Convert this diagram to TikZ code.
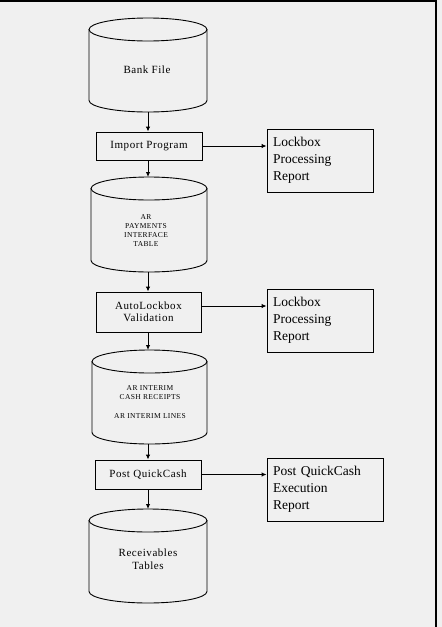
\documentclass[tikz,border=0pt]{standalone}
\usepackage{fontspec}
\setmainfont{Liberation Serif}
\newfontfamily\spacedfont[LetterSpace=5]{Liberation Serif}
\usetikzlibrary{arrows.meta,calc}
\definecolor{bg}{HTML}{F0F0F0}
\tikzset{
  x=1pt, y=1pt,
  cylline/.style={draw=black, line width=0.9pt},
  arr/.style={draw=black, line width=0.9pt, -{Latex[length=5pt,width=4.5pt]}},
  procbox/.style={draw=black, line width=0.9pt, inner sep=0pt, align=center,
    font=\spacedfont\fontsize{11}{12}\selectfont},
  reportbox/.style={draw=black, line width=0.9pt, inner sep=0pt, align=left,
    font=\fontsize{13.5}{17}\selectfont},
  cyltext/.style={inner sep=0pt, align=center, font=\spacedfont\fontsize{7.5}{9}\selectfont},
  cyltextbig/.style={inner sep=0pt, align=center, font=\spacedfont\fontsize{11}{13}\selectfont},
}
% name, cx, top, bottom, half width
\newcommand\mycyl[5]{%
  \draw[cylline] (#2,-#3-11.5) ellipse [x radius=#5, y radius=11.5];
  \draw[cylline] (#2-#5,-#3-11.5) -- (#2-#5,-#4+11.5)
     arc[start angle=180, end angle=360, x radius=#5, y radius=11.5]
     -- (#2+#5,-#3-11.5);
  \coordinate (#1-t) at (#2,-#3);
  \coordinate (#1-b) at (#2,-#4);
}
\begin{document}
\begin{tikzpicture}
\useasboundingbox (0,0) rectangle (442,-627);
\fill[bg] (0,0) rectangle (442,-627);
\draw[line width=2pt] (0,-1) -- (437,-1);
\draw[line width=2pt] (436,0) -- (436,-627);

% cylinders
\mycyl{c1}{148}{18}{112}{59}
\node[cyltextbig] (c1l) at (147,-70) {Bank File};

\mycyl{c2}{149}{177}{272}{58}
\node[cyltext] (c2l) at (146,-230.5) {AR\\PAYMENTS\\INTERFACE\\TABLE};

\mycyl{c3}{149.5}{350}{444}{57.5}
\node[cyltext] (c3l) at (150,-402) {AR INTERIM\\CASH RECEIPTS\\[10pt]AR INTERIM LINES};

\mycyl{c4}{148}{509}{603}{59}
\node[cyltextbig] (c4l) at (148,-559.5) {Receivables\\Tables};

% process boxes
\node[procbox, minimum width=106pt, minimum height=28pt] (b1) at (149,-146) {Import Program};
\node[procbox, minimum width=105pt, minimum height=40pt] (b2) at (148.5,-312) {AutoLockbox\\Validation};
\node[procbox, minimum width=106pt, minimum height=29pt] (b3) at (148,-474.5) {Post QuickCash};

% report boxes
\node[reportbox, minimum width=106pt, minimum height=63pt, text width=94pt] (r1) at (320,-160.5) {Lockbox\\Processing\\Report};
\node[reportbox, minimum width=106pt, minimum height=63pt, text width=94pt] (r2) at (320,-320.5) {Lockbox\\Processing\\Report};
\node[reportbox, minimum width=116pt, minimum height=63pt, text width=104pt] (r3) at (325,-489.5) {Post QuickCash\\Execution\\Report};

% vertical connectors
\draw[arr] (c1-b) -- (c1-b |- b1.north);
\draw[arr] (c1-b |- b1.south) -- (c1-b |- c2-t);
\draw[arr] (c1-b |- c2-b) -- (c1-b |- b2.north);
\draw[arr] (c1-b |- b2.south) -- (c1-b |- c3-t);
\draw[arr] (c1-b |- c3-b) -- (c1-b |- b3.north);
\draw[arr] (c1-b |- b3.south) -- (c1-b |- c4-t);

% horizontal connectors
\draw[arr] (b1.east) -- (b1.east -| r1.west);
\draw[arr] ([yshift=6pt]b2.east) -- ([yshift=6pt]b2.east -| r2.west);
\draw[arr] (b3.east) -- (b3.east -| r3.west);
\end{tikzpicture}
\end{document}
